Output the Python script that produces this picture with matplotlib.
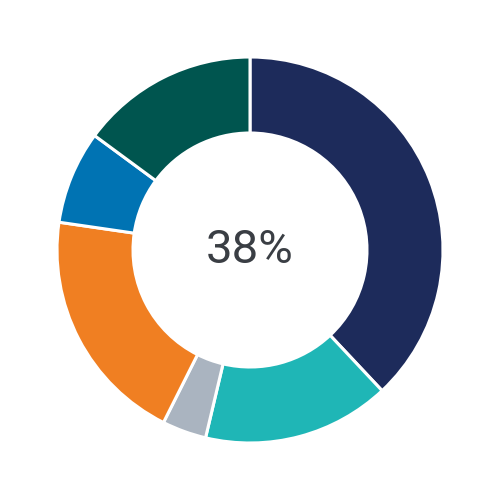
import matplotlib
matplotlib.use('Agg')
import matplotlib.pyplot as plt

# slice shares, clockwise from 12 o'clock
labels = ['Navy', 'Teal', 'Gray', 'Orange', 'Blue', 'Green']
shares = [38.0, 15.7, 3.7, 19.9, 7.8, 14.9]
colors = ['#1d2b5b', '#1fb6b6', '#aab4c0', '#f07f22', '#0073b3', '#00554f']
center_label = '38%'

fig = plt.figure(figsize=(5, 5), dpi=100)
ax = fig.add_axes([0, 0, 1, 1])

ax.pie(shares, colors=colors, startangle=90, counterclock=False,
       radius=0.965,
       wedgeprops=dict(width=0.38, edgecolor='white', linewidth=2.2))
ax.set_aspect('equal')
ax.set_xlim(-1.25, 1.25)
ax.set_ylim(-1.25, 1.25)

ax.text(0, 0.0, center_label, ha='center', va='center',
        fontsize=34, color='#3a3e44', family=['Roboto', 'DejaVu Sans'])

fig.savefig('out.png', dpi=100)
